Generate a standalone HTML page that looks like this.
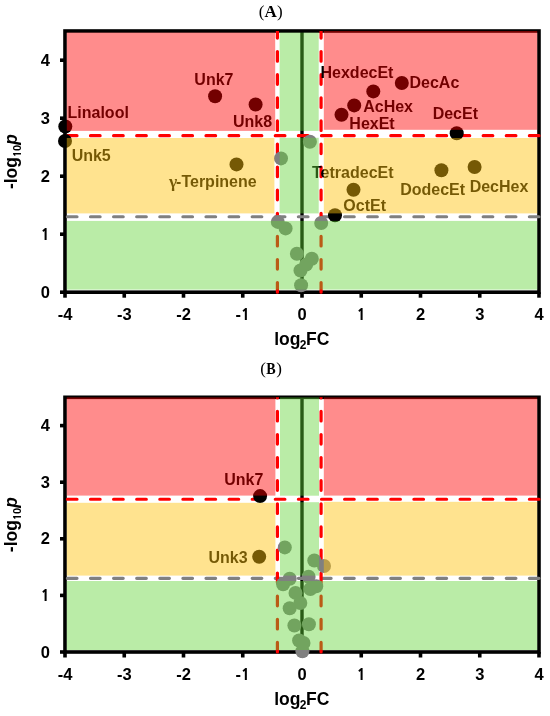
<!DOCTYPE html>
<html><head><meta charset="utf-8"><title>Volcano plots</title>
<style>
html,body{margin:0;padding:0;background:#fff;}
svg{display:block;font-family:"Liberation Sans",Arial,sans-serif;font-weight:bold;}
</style></head><body>
<svg width="550" height="716" viewBox="0 0 550 716">
<rect width="550" height="716" fill="#fff"/>
<rect x="65.0" y="31.0" width="474.0" height="261.2" fill="none" stroke="#000" stroke-width="3.6"/>
<line x1="60.0" y1="292.20" x2="65.0" y2="292.20" stroke="#000" stroke-width="3.6"/>
<line x1="60.0" y1="234.20" x2="65.0" y2="234.20" stroke="#000" stroke-width="3.6"/>
<line x1="60.0" y1="176.20" x2="65.0" y2="176.20" stroke="#000" stroke-width="3.6"/>
<line x1="60.0" y1="118.20" x2="65.0" y2="118.20" stroke="#000" stroke-width="3.6"/>
<line x1="60.0" y1="60.20" x2="65.0" y2="60.20" stroke="#000" stroke-width="3.6"/>
<line x1="65.00" y1="292.2" x2="65.00" y2="297.7" stroke="#000" stroke-width="3.6"/>
<line x1="124.25" y1="292.2" x2="124.25" y2="297.7" stroke="#000" stroke-width="3.6"/>
<line x1="183.50" y1="292.2" x2="183.50" y2="297.7" stroke="#000" stroke-width="3.6"/>
<line x1="242.75" y1="292.2" x2="242.75" y2="297.7" stroke="#000" stroke-width="3.6"/>
<line x1="302.00" y1="292.2" x2="302.00" y2="297.7" stroke="#000" stroke-width="3.6"/>
<line x1="361.25" y1="292.2" x2="361.25" y2="297.7" stroke="#000" stroke-width="3.6"/>
<line x1="420.50" y1="292.2" x2="420.50" y2="297.7" stroke="#000" stroke-width="3.6"/>
<line x1="479.75" y1="292.2" x2="479.75" y2="297.7" stroke="#000" stroke-width="3.6"/>
<line x1="539.00" y1="292.2" x2="539.00" y2="297.7" stroke="#000" stroke-width="3.6"/>
<line x1="302" y1="292.2" x2="302" y2="31.0" stroke="#000" stroke-width="3.4"/>
<line x1="67.4" y1="135.66" x2="539.0" y2="135.66" stroke="#FF0000" stroke-width="3.2" stroke-dasharray="9.6 13.5" stroke-linecap="round"/>
<line x1="67.4" y1="216.74" x2="539.0" y2="216.74" stroke="#808080" stroke-width="3.2" stroke-dasharray="9.6 13.5" stroke-linecap="round"/>
<clipPath id="c292"><rect x="0" y="31.0" width="550" height="265.2"/></clipPath>
<line x1="277.41" y1="292.2" x2="277.41" y2="31.0" stroke="#FF0000" stroke-width="3.2" stroke-dasharray="9.6 13.5" stroke-linecap="round" clip-path="url(#c292)"/>
<line x1="321.08" y1="292.2" x2="321.08" y2="31.0" stroke="#FF0000" stroke-width="3.2" stroke-dasharray="9.6 13.5" stroke-linecap="round" clip-path="url(#c292)"/>
<circle cx="281" cy="158.4" r="7" fill="#808080"/>
<circle cx="309.9" cy="141.8" r="7" fill="#808080"/>
<circle cx="277.8" cy="221.9" r="7" fill="#808080"/>
<circle cx="285.6" cy="228.4" r="7" fill="#808080"/>
<circle cx="321.2" cy="223" r="7" fill="#808080"/>
<circle cx="296.9" cy="253.7" r="7" fill="#808080"/>
<circle cx="311.8" cy="258.8" r="7" fill="#808080"/>
<circle cx="306.2" cy="264.6" r="7" fill="#808080"/>
<circle cx="300.5" cy="270.5" r="7" fill="#808080"/>
<circle cx="301.1" cy="285.3" r="7" fill="#808080"/>
<circle cx="65.3" cy="126.5" r="7" fill="#000"/>
<circle cx="65" cy="141" r="7" fill="#000"/>
<circle cx="215.1" cy="96.2" r="7" fill="#000"/>
<circle cx="255.6" cy="104.5" r="7" fill="#000"/>
<circle cx="236.5" cy="164.4" r="7" fill="#000"/>
<circle cx="373.3" cy="91.4" r="7" fill="#000"/>
<circle cx="401.8" cy="83" r="7" fill="#000"/>
<circle cx="354.2" cy="105.4" r="7" fill="#000"/>
<circle cx="341.5" cy="114.8" r="7" fill="#000"/>
<circle cx="456.7" cy="133.3" r="7" fill="#000"/>
<circle cx="353.5" cy="189.8" r="7" fill="#000"/>
<circle cx="335" cy="215.3" r="7" fill="#000"/>
<circle cx="441.4" cy="170.2" r="7" fill="#000"/>
<circle cx="474.6" cy="167" r="7" fill="#000"/>
<text x="67.53" y="117.60" font-size="16" fill="#000" >Linalool</text>
<text x="71.64" y="160.90" font-size="16" fill="#000" >Unk5</text>
<text x="194.34" y="84.70" font-size="16" fill="#000" >Unk7</text>
<text x="233.04" y="126.70" font-size="16" fill="#000" >Unk8</text>
<text x="169.09" y="186.50" font-size="17.5" font-family="Liberation Serif, serif">γ</text>
<text x="176.07" y="186.50" font-size="16" fill="#000" >-Terpinene</text>
<text x="320.53" y="77.90" font-size="16" fill="#000" >HexdecEt</text>
<text x="409.53" y="88.30" font-size="16" fill="#000" >DecAc</text>
<text x="363.20" y="111.50" font-size="16" fill="#000" >AcHex</text>
<text x="349.33" y="128.80" font-size="16" fill="#000" >HexEt</text>
<text x="432.63" y="118.80" font-size="16" fill="#000" >DecEt</text>
<text x="312.02" y="177.70" font-size="16" fill="#000" >TetradecEt</text>
<text x="343.34" y="210.90" font-size="16" fill="#000" >OctEt</text>
<text x="400.23" y="195.30" font-size="16" fill="#000" >DodecEt</text>
<text x="469.63" y="191.60" font-size="16" fill="#000" >DecHex</text>
<rect x="66.8" y="32.6" width="208.40" height="98.30" fill="rgba(255,0,0,0.45)"/>
<rect x="323.8" y="31.0" width="213.40" height="98.80" fill="rgba(255,0,0,0.45)"/>
<rect x="279.6" y="32.6" width="39.10" height="98.30" fill="rgba(95,210,50,0.43)"/>
<rect x="66.8" y="138.0" width="207.60" height="75.40" fill="rgba(255,195,10,0.46)"/>
<rect x="323.8" y="138.0" width="213.40" height="75.40" fill="rgba(255,195,10,0.46)"/>
<rect x="279.6" y="137.8" width="39.10" height="75.60" fill="rgba(95,210,50,0.43)"/>
<rect x="66.8" y="220.9" width="470.40" height="68.70" fill="rgba(95,210,50,0.43)"/>
<text x="49.9" y="297.88" font-size="16.5" text-anchor="end">0</text>
<text x="49.9" y="239.88" font-size="16.5" text-anchor="end"><tspan font-family="NanumGothic, sans-serif" font-weight="800" font-size="15">1</tspan></text>
<text x="49.9" y="181.88" font-size="16.5" text-anchor="end">2</text>
<text x="49.9" y="123.87" font-size="16.5" text-anchor="end">3</text>
<text x="49.9" y="65.87" font-size="16.5" text-anchor="end">4</text>
<text x="65.00" y="319.80" font-size="16.5" text-anchor="middle">-4</text>
<text x="124.25" y="319.80" font-size="16.5" text-anchor="middle">-3</text>
<text x="183.50" y="319.80" font-size="16.5" text-anchor="middle">-2</text>
<text x="242.75" y="319.80" font-size="16.5" text-anchor="middle">-<tspan font-family="NanumGothic, sans-serif" font-weight="800" font-size="15">1</tspan></text>
<text x="302.00" y="319.80" font-size="16.5" text-anchor="middle">0</text>
<text x="361.25" y="319.80" font-size="16.5" text-anchor="middle"><tspan font-family="NanumGothic, sans-serif" font-weight="800" font-size="15">1</tspan></text>
<text x="420.50" y="319.80" font-size="16.5" text-anchor="middle">2</text>
<text x="479.75" y="319.80" font-size="16.5" text-anchor="middle">3</text>
<text x="539.00" y="319.80" font-size="16.5" text-anchor="middle">4</text>
<text x="274.2" y="344.70" font-size="17.5">log<tspan font-size="12" dy="4" dx="-0.6">2</tspan><tspan dy="-4" dx="-0.5">FC</tspan></text>
<text transform="translate(17,161.60) rotate(-90)" text-anchor="middle" font-size="17.5">-log<tspan font-size="11" dy="4"><tspan font-family="NanumGothic, sans-serif" font-weight="800" font-size="10">1</tspan>0</tspan><tspan dy="-4" font-style="italic">p</tspan></text>
<text x="258.85" y="16.8" font-family="Liberation Serif, serif" font-size="17" font-weight="normal">(</text>
<text x="264.53" y="16.8" font-family="Liberation Serif, serif" font-size="17" font-weight="bold">A</text>
<text x="277.05" y="16.8" font-family="Liberation Serif, serif" font-size="17" font-weight="normal">)</text>
<rect x="65.0" y="397.3" width="474.0" height="254.7" fill="none" stroke="#000" stroke-width="3.6"/>
<line x1="60.0" y1="652.00" x2="65.0" y2="652.00" stroke="#000" stroke-width="3.6"/>
<line x1="60.0" y1="595.40" x2="65.0" y2="595.40" stroke="#000" stroke-width="3.6"/>
<line x1="60.0" y1="538.80" x2="65.0" y2="538.80" stroke="#000" stroke-width="3.6"/>
<line x1="60.0" y1="482.20" x2="65.0" y2="482.20" stroke="#000" stroke-width="3.6"/>
<line x1="60.0" y1="425.60" x2="65.0" y2="425.60" stroke="#000" stroke-width="3.6"/>
<line x1="65.00" y1="652.0" x2="65.00" y2="657.5" stroke="#000" stroke-width="3.6"/>
<line x1="124.25" y1="652.0" x2="124.25" y2="657.5" stroke="#000" stroke-width="3.6"/>
<line x1="183.50" y1="652.0" x2="183.50" y2="657.5" stroke="#000" stroke-width="3.6"/>
<line x1="242.75" y1="652.0" x2="242.75" y2="657.5" stroke="#000" stroke-width="3.6"/>
<line x1="302.00" y1="652.0" x2="302.00" y2="657.5" stroke="#000" stroke-width="3.6"/>
<line x1="361.25" y1="652.0" x2="361.25" y2="657.5" stroke="#000" stroke-width="3.6"/>
<line x1="420.50" y1="652.0" x2="420.50" y2="657.5" stroke="#000" stroke-width="3.6"/>
<line x1="479.75" y1="652.0" x2="479.75" y2="657.5" stroke="#000" stroke-width="3.6"/>
<line x1="539.00" y1="652.0" x2="539.00" y2="657.5" stroke="#000" stroke-width="3.6"/>
<line x1="302" y1="652.0" x2="302" y2="397.3" stroke="#000" stroke-width="3.4"/>
<line x1="67.4" y1="499.24" x2="539.0" y2="499.24" stroke="#FF0000" stroke-width="3.2" stroke-dasharray="9.6 13.5" stroke-linecap="round"/>
<line x1="67.4" y1="578.36" x2="539.0" y2="578.36" stroke="#808080" stroke-width="3.2" stroke-dasharray="9.6 13.5" stroke-linecap="round"/>
<clipPath id="c652"><rect x="0" y="397.3" width="550" height="258.7"/></clipPath>
<line x1="277.41" y1="652.0" x2="277.41" y2="397.3" stroke="#FF0000" stroke-width="3.2" stroke-dasharray="9.6 13.5" stroke-linecap="round" clip-path="url(#c652)"/>
<line x1="321.08" y1="652.0" x2="321.08" y2="397.3" stroke="#FF0000" stroke-width="3.2" stroke-dasharray="9.6 13.5" stroke-linecap="round" clip-path="url(#c652)"/>
<circle cx="284.8" cy="547.4" r="7" fill="#808080"/>
<circle cx="314.3" cy="560.5" r="7" fill="#808080"/>
<circle cx="324" cy="566" r="7" fill="#808080"/>
<circle cx="289.7" cy="578.8" r="7" fill="#808080"/>
<circle cx="283.1" cy="584.2" r="7" fill="#808080"/>
<circle cx="308.6" cy="576.8" r="7" fill="#808080"/>
<circle cx="316.2" cy="586.2" r="7" fill="#808080"/>
<circle cx="310.4" cy="589" r="7" fill="#808080"/>
<circle cx="295.5" cy="592.9" r="7" fill="#808080"/>
<circle cx="300.3" cy="603" r="7" fill="#808080"/>
<circle cx="289.7" cy="608.3" r="7" fill="#808080"/>
<circle cx="294.4" cy="625.5" r="7" fill="#808080"/>
<circle cx="308.9" cy="624.2" r="7" fill="#808080"/>
<circle cx="299.1" cy="640.5" r="7" fill="#808080"/>
<circle cx="303.5" cy="643" r="7" fill="#808080"/>
<circle cx="302.4" cy="651.3" r="7" fill="#808080"/>
<circle cx="260.1" cy="496.1" r="7" fill="#000"/>
<circle cx="259.2" cy="556.8" r="7" fill="#000"/>
<text x="224.24" y="484.70" font-size="16" fill="#000" >Unk7</text>
<text x="208.54" y="562.60" font-size="16" fill="#000" >Unk3</text>
<rect x="66.8" y="397.4" width="208.60" height="98.20" fill="rgba(255,0,0,0.45)"/>
<rect x="323.8" y="397.4" width="213.40" height="98.20" fill="rgba(255,0,0,0.45)"/>
<rect x="280" y="397.4" width="39.00" height="98.30" fill="rgba(95,210,50,0.43)"/>
<rect x="66.8" y="502.8" width="208.60" height="72.80" fill="rgba(255,195,10,0.46)"/>
<rect x="323.8" y="501.8" width="213.40" height="73.80" fill="rgba(255,195,10,0.46)"/>
<rect x="280" y="502.2" width="39.00" height="73.40" fill="rgba(95,210,50,0.43)"/>
<rect x="66.8" y="581" width="470.40" height="69.00" fill="rgba(95,210,50,0.43)"/>
<text x="49.9" y="657.67" font-size="16.5" text-anchor="end">0</text>
<text x="49.9" y="601.07" font-size="16.5" text-anchor="end"><tspan font-family="NanumGothic, sans-serif" font-weight="800" font-size="15">1</tspan></text>
<text x="49.9" y="544.47" font-size="16.5" text-anchor="end">2</text>
<text x="49.9" y="487.88" font-size="16.5" text-anchor="end">3</text>
<text x="49.9" y="431.28" font-size="16.5" text-anchor="end">4</text>
<text x="65.00" y="679.60" font-size="16.5" text-anchor="middle">-4</text>
<text x="124.25" y="679.60" font-size="16.5" text-anchor="middle">-3</text>
<text x="183.50" y="679.60" font-size="16.5" text-anchor="middle">-2</text>
<text x="242.75" y="679.60" font-size="16.5" text-anchor="middle">-<tspan font-family="NanumGothic, sans-serif" font-weight="800" font-size="15">1</tspan></text>
<text x="302.00" y="679.60" font-size="16.5" text-anchor="middle">0</text>
<text x="361.25" y="679.60" font-size="16.5" text-anchor="middle"><tspan font-family="NanumGothic, sans-serif" font-weight="800" font-size="15">1</tspan></text>
<text x="420.50" y="679.60" font-size="16.5" text-anchor="middle">2</text>
<text x="479.75" y="679.60" font-size="16.5" text-anchor="middle">3</text>
<text x="539.00" y="679.60" font-size="16.5" text-anchor="middle">4</text>
<text x="274.2" y="704.50" font-size="17.5">log<tspan font-size="12" dy="4" dx="-0.6">2</tspan><tspan dy="-4" dx="-0.5">FC</tspan></text>
<text transform="translate(17,524.65) rotate(-90)" text-anchor="middle" font-size="17.5">-log<tspan font-size="11" dy="4"><tspan font-family="NanumGothic, sans-serif" font-weight="800" font-size="10">1</tspan>0</tspan><tspan dy="-4" font-style="italic">p</tspan></text>
<text x="260.25" y="373.8" font-family="Liberation Serif, serif" font-size="17" font-weight="normal">(</text>
<text transform="translate(266.50,373.8) scale(0.83,1)" x="-0.28" y="0" font-family="Liberation Serif, serif" font-size="17" font-weight="bold">B</text>
<text x="276.25" y="373.8" font-family="Liberation Serif, serif" font-size="17" font-weight="normal">)</text>
</svg>
</body></html>
